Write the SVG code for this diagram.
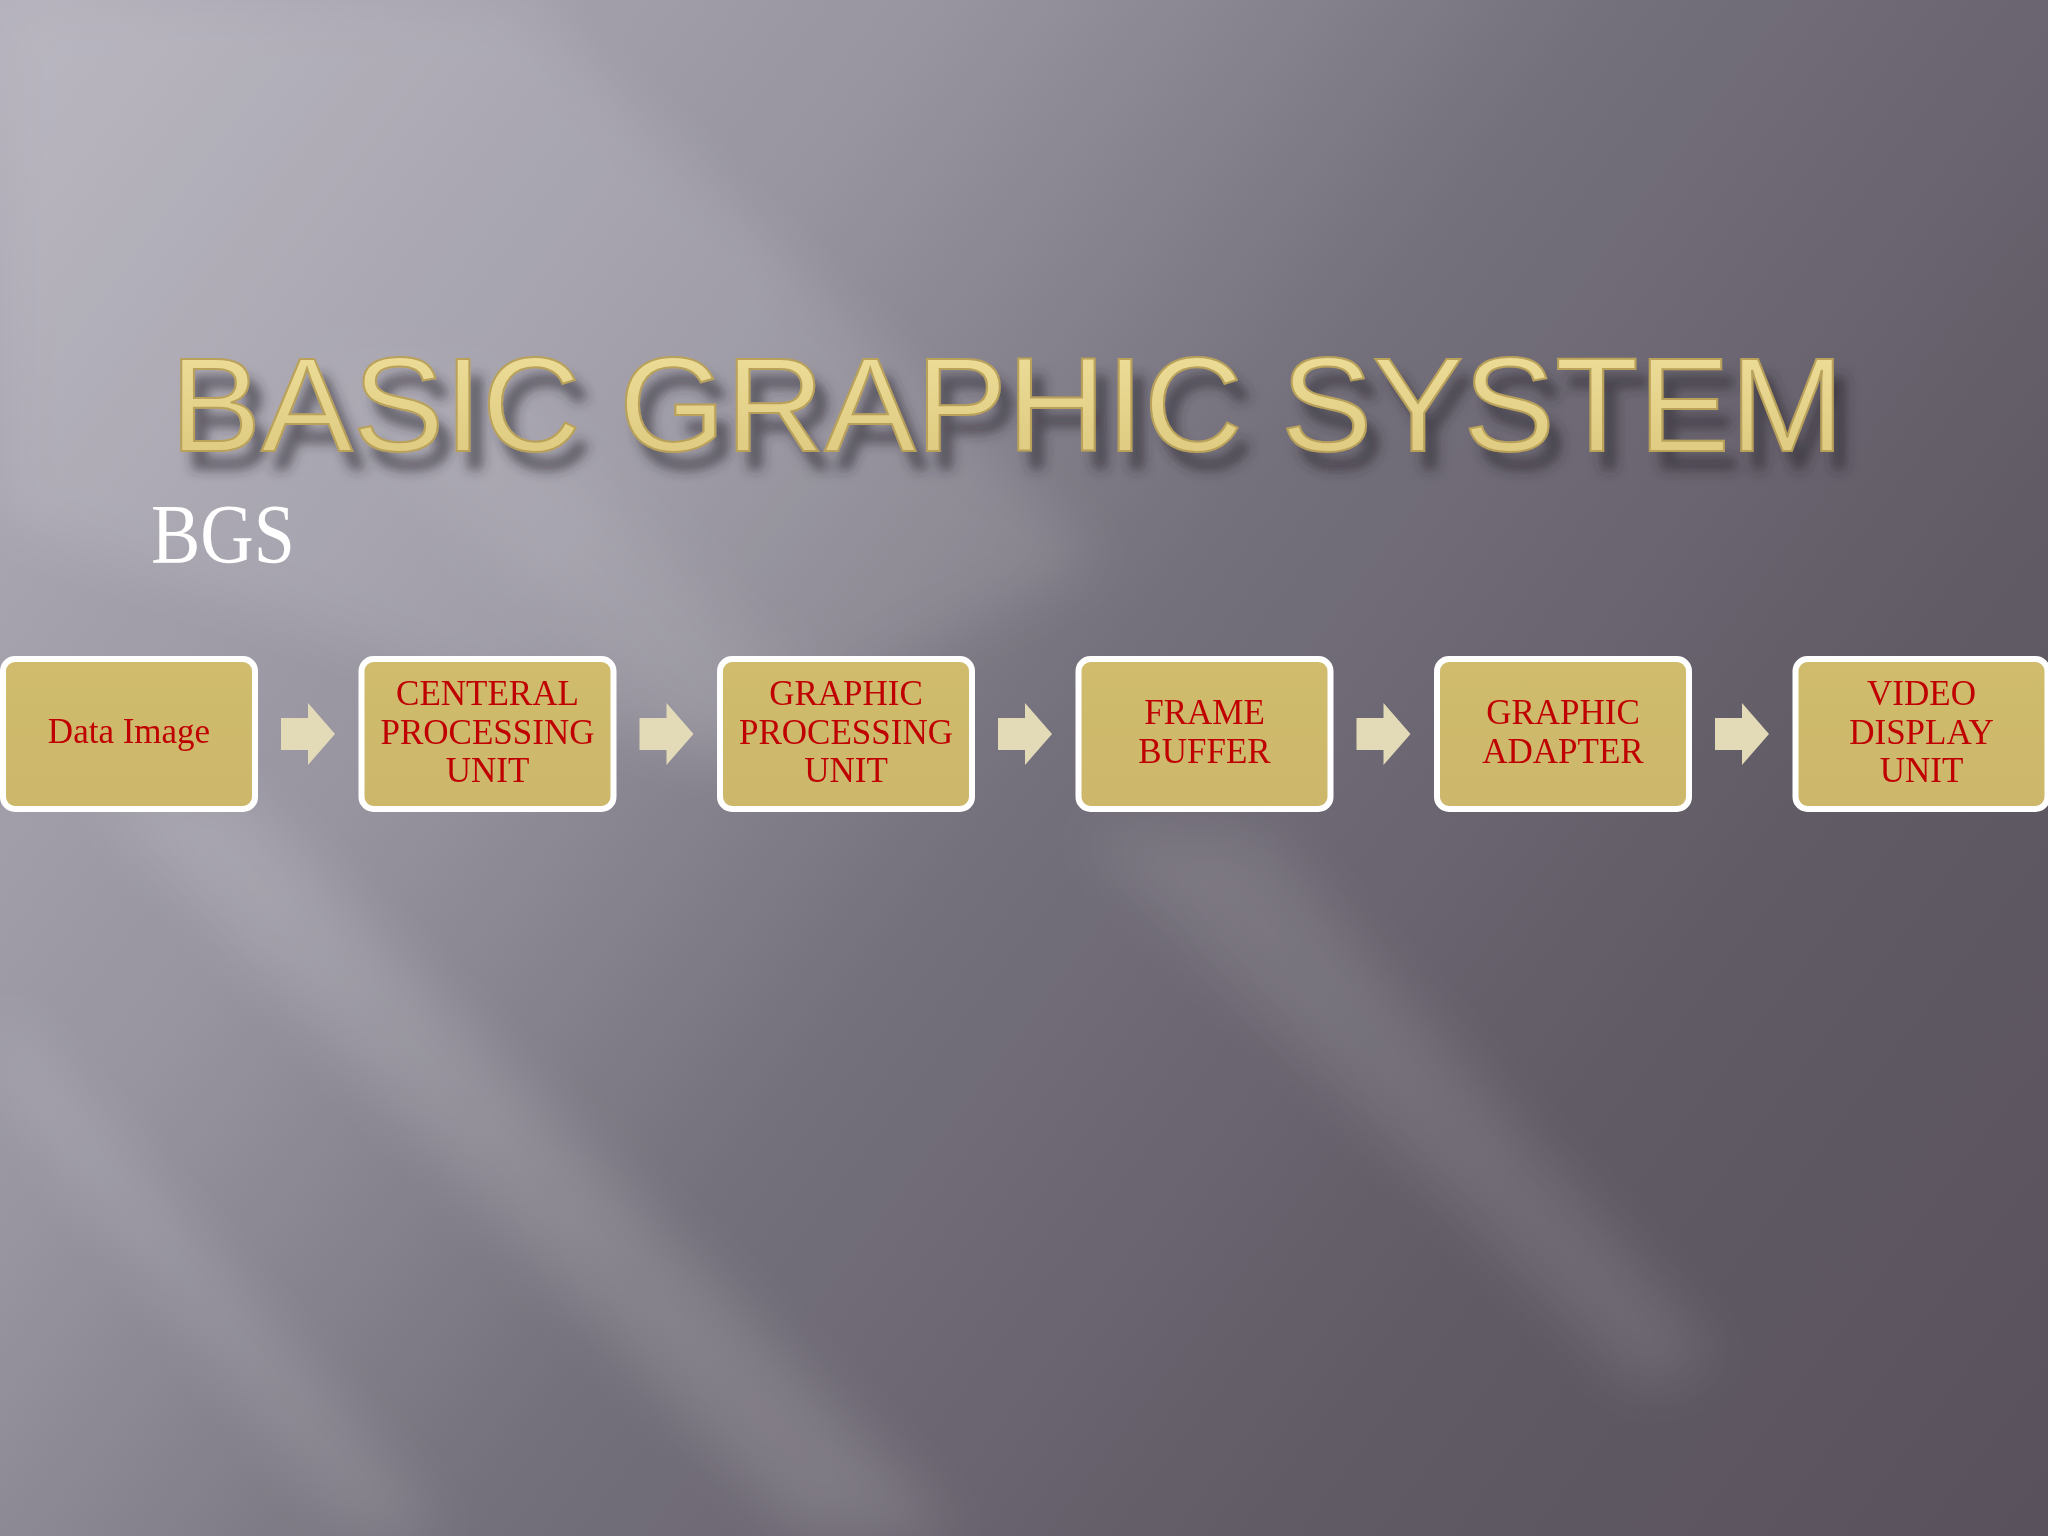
<svg xmlns="http://www.w3.org/2000/svg" width="2048" height="1536" viewBox="0 0 2048 1536">
  <defs>
    <linearGradient id="bg" x1="0" y1="0" x2="2048" y2="1536" gradientUnits="userSpaceOnUse">
      <stop offset="0" stop-color="#b3b0bb"/>
      <stop offset="0.3" stop-color="#9794a0"/>
      <stop offset="0.5" stop-color="#75717c"/>
      <stop offset="0.75" stop-color="#615b66"/>
      <stop offset="1" stop-color="#59525c"/>
    </linearGradient>
    <filter id="blur" x="-30%" y="-30%" width="160%" height="160%">
      <feGaussianBlur stdDeviation="28"/>
    </filter>
    <filter id="shadow" x="-10%" y="-30%" width="120%" height="170%">
      <feGaussianBlur in="SourceAlpha" stdDeviation="6"/>
      <feOffset dx="12" dy="18" result="o"/>
      <feFlood flood-color="#2e2a33" flood-opacity="0.6"/>
      <feComposite in2="o" operator="in" result="s"/>
      <feMerge><feMergeNode in="s"/><feMergeNode in="SourceGraphic"/></feMerge>
    </filter>
    <linearGradient id="gold" x1="0" y1="0" x2="0" y2="1">
      <stop offset="0" stop-color="#efe09c"/>
      <stop offset="1" stop-color="#dcc77c"/>
    </linearGradient>
    <linearGradient id="boxfill" x1="0" y1="0" x2="0" y2="1">
      <stop offset="0" stop-color="#d0bc6c"/>
      <stop offset="1" stop-color="#ccb76b"/>
    </linearGradient>
    <style>
      .box { fill: url(#boxfill); stroke: #ffffff; stroke-width: 6; }
      .lbl { font-family: "Liberation Serif", "Times New Roman", serif; font-size: 35px; fill: #c00000; text-anchor: middle; }
      .arrow { fill: #e3dab8; }
    </style>
  </defs>

  <!-- background -->
  <rect width="2048" height="1536" fill="url(#bg)"/>
  <g filter="url(#blur)" fill="#ffffff">
    <polygon points="0,0 520,0 1100,560 700,760 0,520" opacity="0.10"/>
    <polygon points="90,790 240,790 960,1536 800,1536" opacity="0.13"/>
    <polygon points="0,1000 0,1090 350,1536 450,1536" opacity="0.10"/>
    <polygon points="1080,830 1260,830 1720,1360 1640,1390" opacity="0.10"/>
    <polygon points="320,370 480,380 880,760 730,780" opacity="0.07"/>
  </g>

  <!-- title -->
  <g id="title" filter="url(#shadow)">
    <text x="170" y="451" textLength="1674" lengthAdjust="spacingAndGlyphs" font-family="'Liberation Sans', Arial, sans-serif" font-size="134" fill="url(#gold)" stroke="#b9a15a" stroke-width="2">BASIC GRAPHIC SYSTEM</text>
  </g>
  <g id="subtitle">
    <text x="151" y="563" textLength="144" lengthAdjust="spacingAndGlyphs" font-family="'Liberation Serif', 'Times New Roman', serif" font-size="84" fill="#ffffff">BGS</text>
  </g>

  <!-- nodes -->
  <g id="node-data-image">
    <rect class="box" x="3" y="659" width="252" height="150" rx="12"/>
    <text class="lbl" x="129" y="743">Data Image</text>
  </g>
  <g id="node-cpu">
    <rect class="box" x="361.5" y="659" width="252" height="150" rx="12"/>
    <text class="lbl" x="487.5" y="705">CENTERAL</text>
    <text class="lbl" x="487.5" y="743.5">PROCESSING</text>
    <text class="lbl" x="487.5" y="782">UNIT</text>
  </g>
  <g id="node-gpu">
    <rect class="box" x="720" y="659" width="252" height="150" rx="12"/>
    <text class="lbl" x="846" y="705">GRAPHIC</text>
    <text class="lbl" x="846" y="743.5">PROCESSING</text>
    <text class="lbl" x="846" y="782">UNIT</text>
  </g>
  <g id="node-frame-buffer">
    <rect class="box" x="1078.5" y="659" width="252" height="150" rx="12"/>
    <text class="lbl" x="1204.5" y="724">FRAME</text>
    <text class="lbl" x="1204.5" y="762.5">BUFFER</text>
  </g>
  <g id="node-graphic-adapter">
    <rect class="box" x="1437" y="659" width="252" height="150" rx="12"/>
    <text class="lbl" x="1563" y="724">GRAPHIC</text>
    <text class="lbl" x="1563" y="762.5">ADAPTER</text>
  </g>
  <g id="node-vdu">
    <rect class="box" x="1795.5" y="659" width="252" height="150" rx="12"/>
    <text class="lbl" x="1921.5" y="705">VIDEO</text>
    <text class="lbl" x="1921.5" y="743.5">DISPLAY</text>
    <text class="lbl" x="1921.5" y="782">UNIT</text>
  </g>

  <!-- connectors -->
  <g id="connectors">
    <polygon class="arrow" points="281,718 308,718 308,703 335,734 308,765 308,750 281,750"/>
    <polygon class="arrow" points="639.5,718 666.5,718 666.5,703 693.5,734 666.5,765 666.5,750 639.5,750"/>
    <polygon class="arrow" points="998,718 1025,718 1025,703 1052,734 1025,765 1025,750 998,750"/>
    <polygon class="arrow" points="1356.5,718 1383.5,718 1383.5,703 1410.5,734 1383.5,765 1383.5,750 1356.5,750"/>
    <polygon class="arrow" points="1715,718 1742,718 1742,703 1769,734 1742,765 1742,750 1715,750"/>
  </g>
</svg>
